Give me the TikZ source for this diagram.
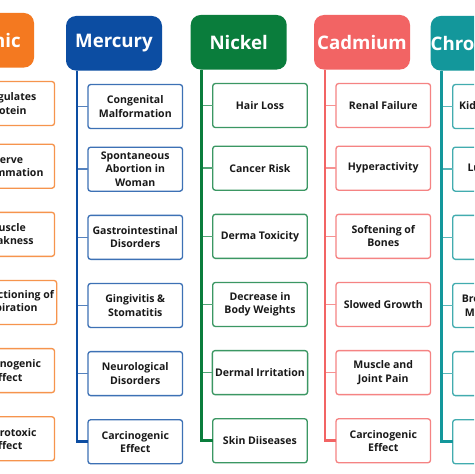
\documentclass[tikz,border=0pt]{standalone}
\usepackage{fontspec}
\setmainfont{Open Sans}
\usetikzlibrary{positioning,calc}
\definecolor{arsenic}{RGB}{244,121,32}
\definecolor{mercury}{RGB}{12,77,162}
\definecolor{nickel}{RGB}{10,125,60}
\definecolor{cadmium}{RGB}{242,100,100}
\definecolor{chromium}{RGB}{19,151,155}
\newcommand{\firstgap}{14pt}
\newcommand{\rowgap}{18.1pt}
\tikzset{
  hdr/.style={fill=#1,rounded corners=7.5pt,minimum width=72pt,minimum height=40.9pt,inner sep=0pt,outer sep=0pt,anchor=north west,text=white,font=\fontsize{14}{17}\selectfont\bfseries},
  item/.style={draw=#1!80,line width=1pt,fill=white,rounded corners=2pt,align=center,minimum width=70.9pt,minimum height=33pt,inner sep=2pt,outer sep=0pt,text=black!90,font=\fontsize{7.9}{10}\selectfont\bfseries},
  trunk/.style={draw=#1,line width=2.2pt},
  branch/.style={draw=#1!70,line width=1.1pt},
}
\begin{document}
\begin{tikzpicture}[x=0.75pt,y=-0.75pt]
  \clip (0,0) rectangle (474,474);
  \fill[white] (0,0) rectangle (474,474);
  % Arsenic
  \node[hdr=arsenic] (as) at (-62,13) {Arsenic};
  \node[item=arsenic,below right=10.5pt and 16.5pt of as.south west] (as1) {Coagulates\\Protein};
  \node[item=arsenic,below=\firstgap of as1] (as2) {Nerve\\Inflammation};
  \node[item=arsenic,below=\rowgap of as2] (as3) {Muscle\\Weakness};
  \node[item=arsenic,below=\rowgap of as3] (as4) {Malfunctioning of\\Respiration};
  \node[item=arsenic,below=\rowgap of as4] (as5) {Carcinogenic\\Effect};
  \node[item=arsenic,below=\rowgap of as5] (as6) {Neurotoxic\\Effect};
  \coordinate (astop) at ($(as.south west)+(11,0)$);
  \draw[branch=arsenic] (as1.west) -- (as1.west -| astop) (as2.west) -- (as2.west -| astop)
    (as3.west) -- (as3.west -| astop) (as4.west) -- (as4.west -| astop) (as5.west) -- (as5.west -| astop);
  \draw[trunk=arsenic] (astop) |- (as6.west);
  % Mercury
  \node[hdr=mercury] (hg) at (66,16) {Mercury};
  \node[item=mercury,below right=10.5pt and 16.5pt of hg.south west] (hg1) {Congenital\\Malformation};
  \node[item=mercury,below=\firstgap of hg1] (hg2) {Spontaneous\\Abortion in\\Woman};
  \node[item=mercury,below=\rowgap of hg2] (hg3) {Gastrointestinal\\Disorders};
  \node[item=mercury,below=\rowgap of hg3] (hg4) {Gingivitis \&\\Stomatitis};
  \node[item=mercury,below=\rowgap of hg4] (hg5) {Neurological\\Disorders};
  \node[item=mercury,below=\rowgap of hg5] (hg6) {Carcinogenic\\Effect};
  \coordinate (hgtop) at ($(hg.south west)+(11,0)$);
  \draw[branch=mercury] (hg1.west) -- (hg1.west -| hgtop) (hg2.west) -- (hg2.west -| hgtop)
    (hg3.west) -- (hg3.west -| hgtop) (hg4.west) -- (hg4.west -| hgtop) (hg5.west) -- (hg5.west -| hgtop);
  \draw[trunk=mercury] (hgtop) |- (hg6.west);
  % Nickel
  \node[hdr=nickel] (ni) at (190.7,15) {Nickel};
  \node[item=nickel,below right=10.5pt and 16.5pt of ni.south west] (ni1) {Hair Loss};
  \node[item=nickel,below=\firstgap of ni1] (ni2) {Cancer Risk};
  \node[item=nickel,below=\rowgap of ni2] (ni3) {Derma Toxicity};
  \node[item=nickel,below=\rowgap of ni3] (ni4) {Decrease in\\Body Weights};
  \node[item=nickel,below=\rowgap of ni4] (ni5) {Dermal Irritation};
  \node[item=nickel,below=\rowgap of ni5] (ni6) {Skin Diiseases};
  \coordinate (nitop) at ($(ni.south west)+(11,0)$);
  \draw[branch=nickel] (ni1.west) -- (ni1.west -| nitop) (ni2.west) -- (ni2.west -| nitop)
    (ni3.west) -- (ni3.west -| nitop) (ni4.west) -- (ni4.west -| nitop) (ni5.west) -- (ni5.west -| nitop);
  \draw[trunk=nickel] (nitop) |- (ni6.west);
  % Cadmium
  \node[hdr=cadmium] (cd) at (314,15) {Cadmium};
  \node[item=cadmium,below right=10.5pt and 16.5pt of cd.south west] (cd1) {Renal Failure};
  \node[item=cadmium,below=\firstgap of cd1] (cd2) {Hyperactivity};
  \node[item=cadmium,below=\rowgap of cd2] (cd3) {Softening of\\Bones};
  \node[item=cadmium,below=\rowgap of cd3] (cd4) {Slowed Growth};
  \node[item=cadmium,below=\rowgap of cd4] (cd5) {Muscle and\\Joint Pain};
  \node[item=cadmium,below=\rowgap of cd5] (cd6) {Carcinogenic\\Effect};
  \coordinate (cdtop) at ($(cd.south west)+(11,0)$);
  \draw[branch=cadmium] (cd1.west) -- (cd1.west -| cdtop) (cd2.west) -- (cd2.west -| cdtop)
    (cd3.west) -- (cd3.west -| cdtop) (cd4.west) -- (cd4.west -| cdtop) (cd5.west) -- (cd5.west -| cdtop);
  \draw[trunk=cadmium] (cdtop) |- (cd6.west);
  % Chromium
  \node[hdr=chromium] (cr) at (430.7,16) {Chromium};
  \node[item=chromium,below right=10.5pt and 16.5pt of cr.south west] (cr1) {Kidney Damage};
  \node[item=chromium,below=\firstgap of cr1] (cr2) {Lung Cancer};
  \node[item=chromium,below=\rowgap of cr2] (cr3) {};
  \node[item=chromium,below=\rowgap of cr3] (cr4) {Bronchitis and\\Mouth Ulcers};
  \node[item=chromium,below=\rowgap of cr4] (cr5) {};
  \node[item=chromium,below=\rowgap of cr5] (cr6) {};
  \coordinate (crtop) at ($(cr.south west)+(11,0)$);
  \draw[branch=chromium] (cr1.west) -- (cr1.west -| crtop) (cr2.west) -- (cr2.west -| crtop)
    (cr3.west) -- (cr3.west -| crtop) (cr4.west) -- (cr4.west -| crtop) (cr5.west) -- (cr5.west -| crtop);
  \draw[trunk=chromium] (crtop) |- (cr6.west);
\end{tikzpicture}
\end{document}
